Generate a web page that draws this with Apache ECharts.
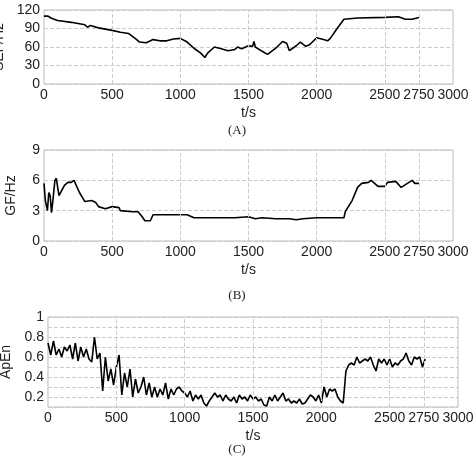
<!DOCTYPE html><html><head><meta charset="utf-8"><script src="https://cdn.jsdelivr.net/npm/echarts@6/dist/echarts.min.js"></script>
<style>body{margin:0}#c{width:474px;height:457px}</style></head><body><div id="c"></div><script>
const xTicks=[0,500,1000,1500,2000,2500,2750,3000];
const sefT=[0,30,50,100,200,300,320,340,400,500,560,570,620,680,700,750,800,850,900,950,1000,1050,1100,1150,1180,1200,1250,1300,1350,1400,1420,1450,1500,1530,1540,1550,1600,1640,1700,1750,1780,1800,1850,1880,1920,1950,2000,2050,2080,2100,2150,2200,2300,2500,2600,2650,2700,2750];
const sefV=[110,110,107,103,100,96,92,95,91,87,84,87,82,72,68,67,72,70,70,73,74,68,58,50,43,50,60,57,54,56,60,57,62,61,69,60,53,48,58,69,66,54,62,68,61,64,75,72,70,74,90,105,107,108,109,105,105,108];
const gfT=[0,10,25,35,45,55,65,80,90,110,150,175,200,220,260,300,350,380,400,450,500,550,560,650,690,720,740,780,800,1050,1100,1200,1300,1400,1500,1550,1600,1700,1800,1850,1900,2000,2100,2200,2210,2260,2300,2330,2380,2400,2450,2500,2520,2580,2620,2700,2720,2750];
const gfV=[5.7,4,3,4.8,4.5,2.8,4,6,6.2,4.5,5.5,5.8,5.8,6,4.8,3.9,4,3.8,3.4,3.2,3.4,3.3,3,2.9,2.9,2.4,2,2,2.6,2.6,2.3,2.3,2.3,2.3,2.4,2.2,2.3,2.2,2.2,2.1,2.2,2.3,2.3,2.3,2.9,4,5.3,5.7,5.8,6,5.4,5.4,5.8,5.9,5.3,6,5.7,5.7];
const apStep=20;
const apV=[0.74,0.62,0.76,0.62,0.68,0.60,0.70,0.66,0.72,0.58,0.74,0.56,0.70,0.60,0.68,0.58,0.55,0.80,0.58,0.64,0.26,0.60,0.36,0.48,0.32,0.50,0.62,0.22,0.44,0.30,0.48,0.20,0.38,0.24,0.30,0.40,0.22,0.34,0.20,0.30,0.20,0.28,0.22,0.34,0.18,0.28,0.22,0.28,0.30,0.26,0.24,0.20,0.26,0.16,0.22,0.18,0.22,0.14,0.11,0.16,0.20,0.24,0.20,0.22,0.16,0.22,0.18,0.16,0.20,0.14,0.22,0.18,0.20,0.16,0.22,0.18,0.20,0.16,0.18,0.12,0.11,0.20,0.16,0.22,0.16,0.20,0.24,0.16,0.18,0.14,0.16,0.14,0.18,0.13,0.14,0.18,0.22,0.20,0.16,0.22,0.14,0.30,0.20,0.28,0.26,0.28,0.20,0.16,0.14,0.46,0.52,0.54,0.52,0.60,0.54,0.56,0.58,0.56,0.60,0.52,0.46,0.58,0.54,0.58,0.52,0.58,0.50,0.54,0.52,0.56,0.58,0.64,0.56,0.52,0.60,0.58,0.60,0.50,0.58];
const zip=(t,v)=>t.map((x,i)=>[x,v[i]]);
const apData=apV.map((v,i)=>[i*apStep,v]);
const grids=[{left:44,width:409,top:10,height:74},{left:44,width:409,top:150,height:91},{left:48,width:410,top:317,height:90}];
const lab={color:'#222',fontSize:14,fontFamily:'Liberation Sans, Arial'};
const xAx=grids.map((g,i)=>({type:'value',gridIndex:i,min:0,max:3000,interval:250,name:'t/s',nameLocation:'middle',nameGap:22,nameTextStyle:lab,
 axisLine:{show:false},axisTick:{show:false},splitLine:{show:false},
 axisLabel:Object.assign({},lab,{margin:4,formatter:v=>(xTicks.includes(v)?String(v):'')})}));
const yCfg=[{min:0,max:120,interval:30,name:'SEF/Hz'},{min:0,max:9,interval:3,name:'GF/Hz'},{min:0.1,max:1,interval:0.1,name:'ApEn'}];
const yAx=yCfg.map((c,i)=>({type:'value',gridIndex:i,min:c.min,max:c.max,interval:c.interval,name:c.name,nameLocation:'middle',nameGap:i==2?32:26,nameTextStyle:lab,
 axisLine:{show:false},axisTick:{show:false},
 splitLine:{show:true,lineStyle:{type:'dashed',color:'#ccc'}},
 axisLabel:Object.assign({},lab,{margin:4,formatter:v=>{if(i==2){const r=Math.round(v*10)/10;return [0.2,0.4,0.6,0.8,1].includes(r)?String(r):'';}return String(v);}})}));
const vl=xTicks.filter(v=>v>0&&v<3000).map(v=>({xAxis:v}));
const mk={silent:true,symbol:'none',label:{show:false},lineStyle:{type:'dashed',color:'#ccc',width:1},data:vl};
const datas=[zip(sefT,sefV),zip(gfT,gfV),apData];
const series=datas.map((d,i)=>({type:'line',xAxisIndex:i,yAxisIndex:i,data:d,showSymbol:false,lineStyle:{color:'#000',width:1.6},markLine:mk}));
const chart=echarts.init(document.getElementById('c'));
chart.setOption({animation:false,
 grid:grids.map(g=>Object.assign({show:true,borderColor:'#bbb',borderWidth:1,containLabel:false,outerBoundsMode:'none'},g)),
 xAxis:xAx,yAxis:yAx,series,
 graphic:[['(A)',131],['(B)',296],['(C)',450]].map(([t,y])=>({type:'text',left:'center',top:y-7,style:{text:t,font:'13px "Liberation Serif", serif',fill:'#222'}}))});
</script></body></html>
